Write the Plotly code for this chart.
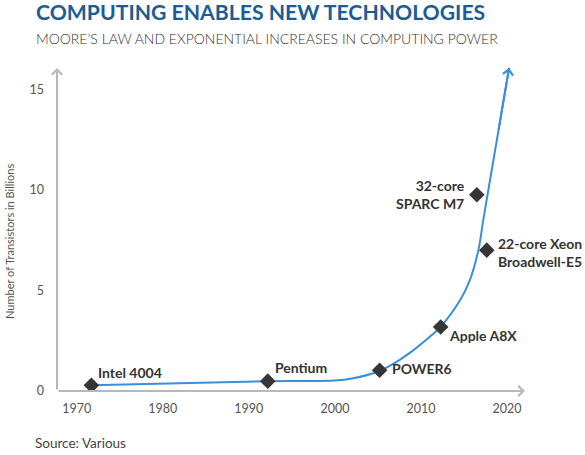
"""Moore's law chart: transistor counts of landmark chips, with a smooth trend arrow."""

import plotly.graph_objects as go

# --- data ---------------------------------------------------------------------------

chip_names = [
    "Intel 4004",
    "Pentium",
    "POWER6",
    "Apple A8X",
    "32-core<br>SPARC M7",
    "22-core Xeon<br>Broadwell-E5",
]
chip_years = [1971.7, 1992.2, 2005.2, 2012.3, 2016.5, 2017.66]
chip_billions = [0.28, 0.49, 1.03, 3.18, 9.75, 7.0]

# trend curve
trend_years = [1971.7, 1992.2, 2000.0, 2002.0, 2005.1, 2007.1, 2009.1, 2011.0,
               2012.2, 2014.6, 2015.68, 2016.68, 2017.25, 2019.0, 2020.25]
trend_billions = [0.28, 0.49, 0.52, 0.62, 0.98, 1.43, 2.02, 2.68,
                  3.15, 4.55, 5.5, 7.0, 8.5, 12.9, 16.05]

x_ticks = [1970, 1980, 1990, 2000, 2010, 2020]
y_ticks = [0, 5, 10, 15]

X_RANGE = [1967.7, 2022.1]
Y_RANGE = [0, 16.05]

# --- style --------------------------------------------------------------------------

FONT = "Lato"
TITLE_BLUE = "#1d5b94"
CURVE_BLUE = "#3b8ed8"
AXIS_GRAY = "#b8b8b8"
MARKER_DARK = "#363636"
TEXT_DARK = "#333333"
TICK_GRAY = "#555555"

W, H = 585, 455
M = dict(l=57, r=60, t=68, b=64)


def _paper(px: float, py: float) -> tuple[float, float]:
    """Pixel position on the page -> paper coordinates."""
    pw = W - M["l"] - M["r"]
    ph = H - M["t"] - M["b"]
    return (px - M["l"]) / pw, (H - M["b"] - py) / ph


# смещения подписей относительно ромбов (px)
label_offsets = [
    dict(xanchor="left", xshift=5, yshift=13, align="left"),
    dict(xanchor="left", xshift=5, yshift=14, align="left"),
    dict(xanchor="left", xshift=10, yshift=2, align="left"),
    dict(xanchor="left", xshift=6, yshift=-8, align="left"),
    dict(xanchor="right", xshift=-10, yshift=0, align="right"),
    dict(xanchor="left", xshift=9, yshift=-2, align="left"),
]

fig = go.Figure()

fig.add_trace(go.Scatter(
    x=trend_years,
    y=trend_billions,
    mode="lines",
    line=dict(color=CURVE_BLUE, width=2, shape="spline", smoothing=1.0),
    hoverinfo="skip",
    showlegend=False,
))

fig.add_trace(go.Scatter(
    x=chip_years,
    y=chip_billions,
    mode="markers",
    marker=dict(symbol="diamond", size=12, color=MARKER_DARK),
    text=[n.replace("<br>", " ") for n in chip_names],
    hovertemplate="<b>%{text}</b><br>%{x:.0f}: %{y:.2f} bn<extra></extra>",
    showlegend=False,
))

for name, yr, val, off in zip(chip_names, chip_years, chip_billions, label_offsets):
    fig.add_annotation(
        x=yr, y=val, text=name, showarrow=False, yanchor="middle",
        font=dict(family=FONT, size=14, color=TEXT_DARK, weight=700),
        **off,
    )

# axis arrows
fig.add_annotation(
    x=X_RANGE[0], y=Y_RANGE[1], ax=X_RANGE[0], ay=0, axref="x", ayref="y",
    text="", showarrow=True, arrowhead=4, arrowsize=1, arrowwidth=2, arrowcolor=AXIS_GRAY,
)
fig.add_annotation(
    x=X_RANGE[1], y=0, ax=X_RANGE[0], ay=0, axref="x", ayref="y",
    text="", showarrow=True, arrowhead=4, arrowsize=1, arrowwidth=2, arrowcolor=AXIS_GRAY,
)
# arrowhead on the trend curve
fig.add_annotation(
    x=trend_years[-1], y=trend_billions[-1], ax=trend_years[-2], ay=trend_billions[-2],
    axref="x", ayref="y", text="", showarrow=True,
    arrowhead=4, arrowsize=1, arrowwidth=2, arrowcolor=CURVE_BLUE,
)

# titles and source
tx, ty = _paper(34, 12)
fig.add_annotation(
    x=tx, y=ty, xref="paper", yref="paper", xanchor="left", yanchor="middle",
    text="COMPUTING ENABLES NEW TECHNOLOGIES", showarrow=False,
    font=dict(family=FONT, size=21.2, color=TITLE_BLUE, weight=700),
)
sx, sy = _paper(34, 38)
fig.add_annotation(
    x=sx, y=sy, xref="paper", yref="paper", xanchor="left", yanchor="middle",
    text="MOORE\u2019S LAW AND EXPONENTIAL INCREASES IN COMPUTING POWER", showarrow=False,
    font=dict(family=FONT, size=14, color=TEXT_DARK, weight=300),
)
ax_x, ax_y = _paper(9, 242)
fig.add_annotation(
    x=ax_x, y=ax_y, xref="paper", yref="paper", xanchor="center", yanchor="middle",
    text="Number of Transistors in Billions", textangle=-90, showarrow=False,
    font=dict(family=FONT, size=11, color=TICK_GRAY),
)
srx, sry = _paper(33, 443)
fig.add_annotation(
    x=srx, y=sry, xref="paper", yref="paper", xanchor="left", yanchor="middle",
    text="Source: Various", showarrow=False,
    font=dict(family=FONT, size=13.5, color="#444444"),
)

fig.update_xaxes(
    range=X_RANGE, tickvals=x_ticks, showgrid=False, zeroline=False, showline=False,
    ticks="", ticklabelstandoff=8, tickfont=dict(family=FONT, size=12.5, color=TICK_GRAY),
    fixedrange=True,
)
fig.update_yaxes(
    range=Y_RANGE, tickvals=y_ticks, showgrid=False, zeroline=False, showline=False,
    ticks="", ticklabelstandoff=12, tickfont=dict(family=FONT, size=12.5, color=TICK_GRAY),
    fixedrange=True,
)
fig.update_layout(
    width=W, height=H, margin=M,
    paper_bgcolor="white", plot_bgcolor="white",
    font=dict(family=FONT),
    showlegend=False,
)

# у body по умолчанию 8px отступа — убираем, чтобы график лёг ровно в окно
fig.write_html(
    "out.html",
    config={"displayModeBar": False},
    post_script="document.body.style.margin='0';",
)
